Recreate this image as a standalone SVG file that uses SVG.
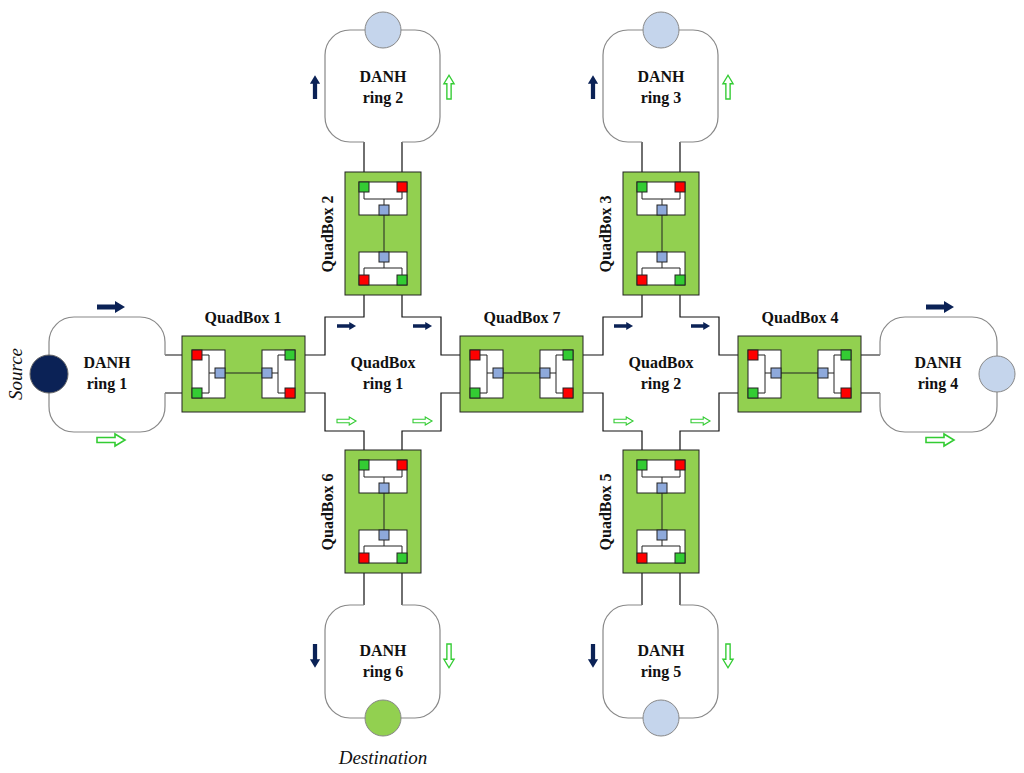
<svg xmlns="http://www.w3.org/2000/svg" xmlns:xlink="http://www.w3.org/1999/xlink" width="1024" height="773" viewBox="0 0 1024 773">
<style>
.t{font-family:"Liberation Serif",serif;font-weight:bold;font-size:16px;text-anchor:middle;fill:#111}
.it{font-family:"Liberation Serif",serif;font-style:italic;font-size:19px;text-anchor:middle;fill:#111}
.ring{fill:none;stroke:#888;stroke-width:1.2}
.ln{fill:none;stroke:#111;stroke-width:1.2}
.an{fill:#0b2256}
.ag{fill:#fff;stroke:#33cc33;stroke-width:1.6}
</style>
<defs>
<g id="qb">
<rect x="0" y="0" width="123" height="76" fill="#92d050" stroke="#222" stroke-width="1"/>
<rect x="10" y="14" width="33" height="48" fill="#fff" stroke="#222"/>
<rect x="80" y="14" width="33" height="48" fill="#fff" stroke="#222"/>
<path d="M20,19H27V57H20M27,37H33M43,37H80M103,19H96V57H103M96,37H90" fill="none" stroke="#222"/>
<rect x="10" y="14" width="10" height="10" fill="#ff0000" stroke="#222"/>
<rect x="10" y="52" width="10" height="10" fill="#33cc33" stroke="#222"/>
<rect x="33" y="32" width="10" height="10" fill="#8ea9db" stroke="#222"/>
<rect x="103" y="14" width="10" height="10" fill="#33cc33" stroke="#222"/>
<rect x="103" y="52" width="10" height="10" fill="#ff0000" stroke="#222"/>
<rect x="80" y="32" width="10" height="10" fill="#8ea9db" stroke="#222"/>
</g>
<path id="ar" d="M0,-2.5H18V-6L28,0L18,6V2.5H0Z"/>
</defs>

<g id="connectors">
<path class="ln" d="M165,355H182M165,393H182M861,355H880M861,393H880"/>
<path class="ln" d="M364,142V172M402,142V172M642,142V172M680,142V172M364,573V605M402,573V605M642,573V605M680,573V605"/>
</g>

<g id="qring1">
<path class="ln" d="M305,355H325V317H364V295M402,295V317H441V355H460M460,393H441V431H402V450M364,450V431H325V393H305"/>
<text class="t" x="383" y="368">QuadBox</text><text class="t" x="383" y="389">ring 1</text>
</g>
<g id="qring2">
<path class="ln" d="M583,355H603V317H642V295M680,295V317H719V355H738M738,393H719V431H680V450M642,450V431H603V393H583"/>
<text class="t" x="661" y="368">QuadBox</text><text class="t" x="661" y="389">ring 2</text>
</g>

<g id="qb1"><use xlink:href="#qb" x="182" y="336"/><text class="t" x="243" y="323">QuadBox 1</text></g>
<g id="qb7"><use xlink:href="#qb" x="460" y="336"/><text class="t" x="522" y="323">QuadBox 7</text></g>
<g id="qb4"><use xlink:href="#qb" x="738" y="336"/><text class="t" x="800" y="323">QuadBox 4</text></g>
<g id="qb2"><use xlink:href="#qb" transform="translate(421,172) rotate(90)"/><text class="t" transform="translate(333,234) rotate(-90)">QuadBox 2</text></g>
<g id="qb3"><use xlink:href="#qb" transform="translate(699,172) rotate(90)"/><text class="t" transform="translate(611,234) rotate(-90)">QuadBox 3</text></g>
<g id="qb6"><use xlink:href="#qb" transform="translate(421,450) rotate(90)"/><text class="t" transform="translate(333,512) rotate(-90)">QuadBox 6</text></g>
<g id="qb5"><use xlink:href="#qb" transform="translate(699,450) rotate(90)"/><text class="t" transform="translate(611,512) rotate(-90)">QuadBox 5</text></g>

<g id="danh1">
<path class="ring" d="M165,355V342A25,25 0 0 0 140,317H74A25,25 0 0 0 49,342V406A25,25 0 0 0 74,432H140A25,25 0 0 0 165,406V393"/>
<circle cx="49" cy="374" r="19" fill="#0b2256" stroke="#666"/>
<text class="t" x="107" y="368">DANH</text><text class="t" x="107" y="389">ring 1</text>
<use xlink:href="#ar" class="an" x="97" y="307"/>
<use xlink:href="#ar" class="ag" x="97" y="440"/>
<text class="it" transform="translate(22,374) rotate(-90)">Source</text>
</g>
<g id="danh4">
<path class="ring" d="M880,355V342A25,25 0 0 1 905,317H972A25,25 0 0 1 997,342V406A25,25 0 0 1 972,432H905A25,25 0 0 1 880,406V393"/>
<circle cx="997" cy="374" r="18" fill="#c5d5ec" stroke="#888"/>
<text class="t" x="938" y="368">DANH</text><text class="t" x="938" y="389">ring 4</text>
<use xlink:href="#ar" class="an" x="926" y="307"/>
<use xlink:href="#ar" class="ag" x="926" y="440"/>
</g>
<g id="danh2">
<path class="ring" d="M364,142H350A25,25 0 0 1 325,117V55A25,25 0 0 1 350,30H415A25,25 0 0 1 440,55V117A25,25 0 0 1 415,142H402"/>
<circle cx="383" cy="30" r="18" fill="#c5d5ec" stroke="#888"/>
<text class="t" x="383" y="82">DANH</text><text class="t" x="383" y="103">ring 2</text>
<use xlink:href="#ar" class="an" transform="translate(315,99) rotate(-90) scale(0.85)"/>
<use xlink:href="#ar" class="ag" transform="translate(449,99) rotate(-90) scale(0.85)"/>
</g>
<g id="danh3">
<path class="ring" d="M642,142H628A25,25 0 0 1 603,117V55A25,25 0 0 1 628,30H693A25,25 0 0 1 718,55V117A25,25 0 0 1 693,142H680"/>
<circle cx="661" cy="30" r="18" fill="#c5d5ec" stroke="#888"/>
<text class="t" x="661" y="82">DANH</text><text class="t" x="661" y="103">ring 3</text>
<use xlink:href="#ar" class="an" transform="translate(593,99) rotate(-90) scale(0.85)"/>
<use xlink:href="#ar" class="ag" transform="translate(728,99) rotate(-90) scale(0.85)"/>
</g>
<g id="danh6">
<path class="ring" d="M364,605H350A25,25 0 0 0 325,630V693A25,25 0 0 0 350,718H415A25,25 0 0 0 440,693V630A25,25 0 0 0 415,605H402"/>
<circle cx="383" cy="718" r="18" fill="#92d050" stroke="#888"/>
<text class="t" x="383" y="656">DANH</text><text class="t" x="383" y="677">ring 6</text>
<use xlink:href="#ar" class="an" transform="translate(315,644) rotate(90) scale(0.85)"/>
<use xlink:href="#ar" class="ag" transform="translate(449,644) rotate(90) scale(0.85)"/>
<text class="it" x="383" y="764">Destination</text>
</g>
<g id="danh5">
<path class="ring" d="M642,605H628A25,25 0 0 0 603,630V693A25,25 0 0 0 628,718H693A25,25 0 0 0 718,693V630A25,25 0 0 0 693,605H680"/>
<circle cx="661" cy="718" r="18" fill="#c5d5ec" stroke="#888"/>
<text class="t" x="661" y="656">DANH</text><text class="t" x="661" y="677">ring 5</text>
<use xlink:href="#ar" class="an" transform="translate(593,644) rotate(90) scale(0.85)"/>
<use xlink:href="#ar" class="ag" transform="translate(728,644) rotate(90) scale(0.85)"/>
</g>

<g id="arrows-q">
<use xlink:href="#ar" class="an" transform="translate(337,326) scale(0.68)"/>
<use xlink:href="#ar" class="an" transform="translate(413,326) scale(0.68)"/>
<use xlink:href="#ar" class="ag" transform="translate(337,421) scale(0.68)"/>
<use xlink:href="#ar" class="ag" transform="translate(413,421) scale(0.68)"/>
<use xlink:href="#ar" class="an" transform="translate(614,326) scale(0.68)"/>
<use xlink:href="#ar" class="an" transform="translate(691,326) scale(0.68)"/>
<use xlink:href="#ar" class="ag" transform="translate(614,421) scale(0.68)"/>
<use xlink:href="#ar" class="ag" transform="translate(691,421) scale(0.68)"/>
</g>
</svg>
